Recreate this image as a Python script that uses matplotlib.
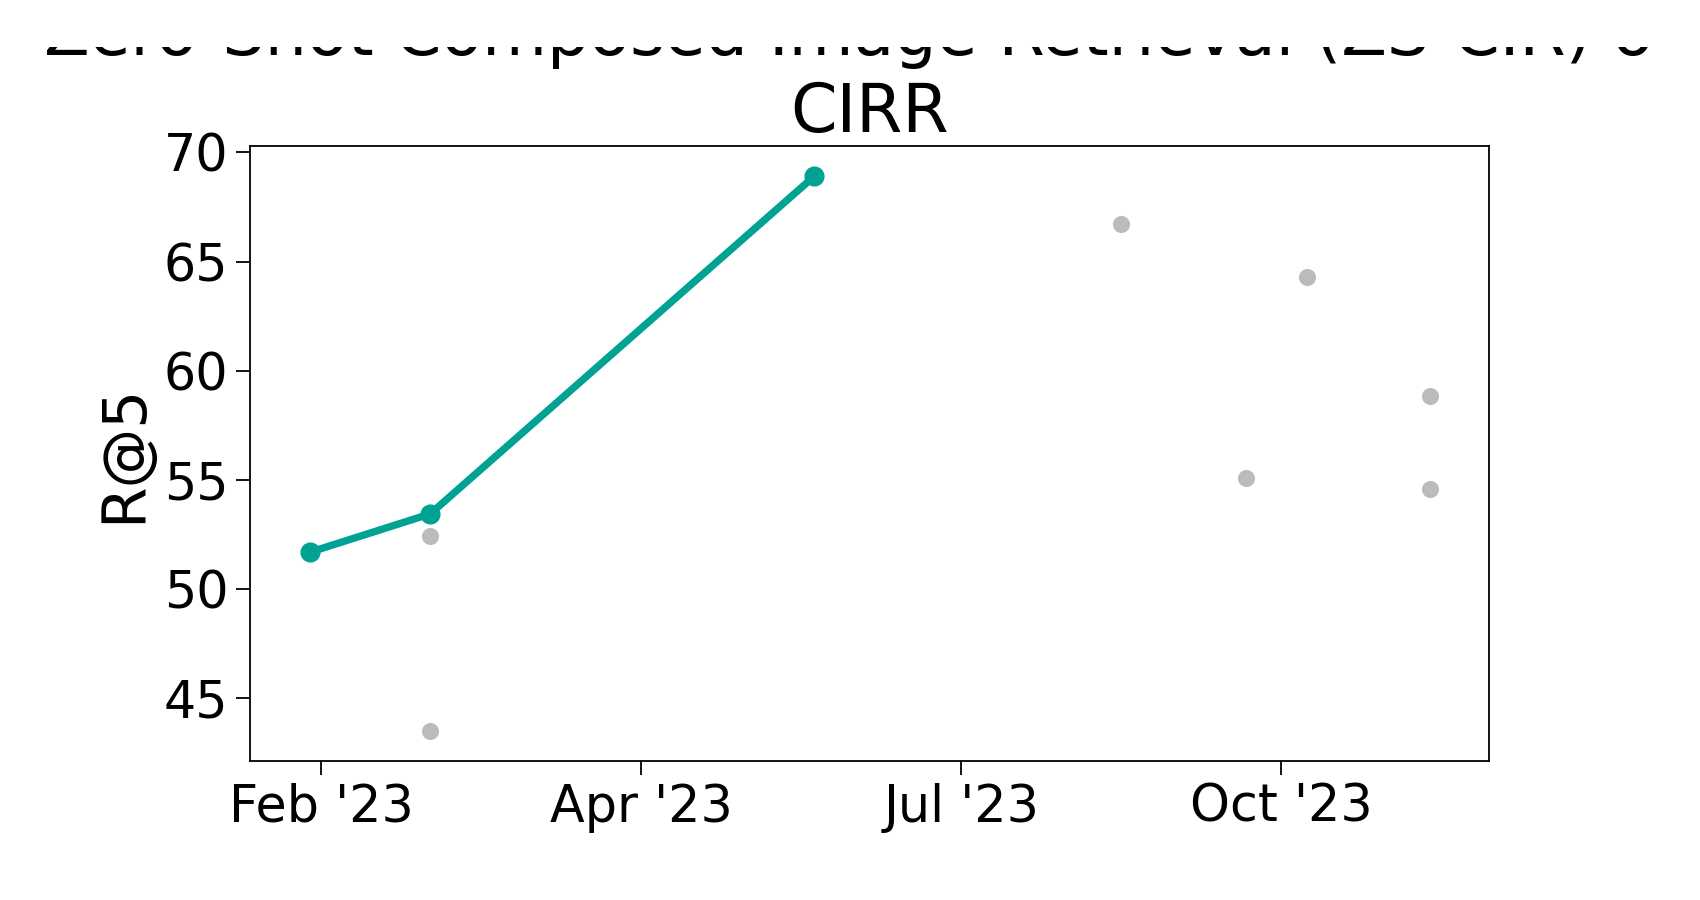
import matplotlib
matplotlib.use("Agg")
import matplotlib.pyplot as plt
from matplotlib.transforms import Bbox, TransformedBbox

# x positions as fractional year, y as R@5
best_x = [2023.093, 2023.168, 2023.408]
best_y = [51.7, 53.45, 68.9]

other_x = [2023.168, 2023.168, 2023.600, 2023.678, 2023.716, 2023.793, 2023.793]
other_y = [52.45, 43.5, 66.7, 55.1, 64.3, 58.85, 54.6]

tick_pos = [2023.1, 2023.3, 2023.5, 2023.7]
tick_labels = ["Feb '23", "Apr '23", "Jul '23", "Oct '23"]

title = "Zero-Shot Composed Image Retrieval (ZS-CIR) on\nCIRR"
ylabel = "R@5"

fig = plt.figure(figsize=(17, 9), dpi=100)
ax = fig.add_axes([0.147, 0.154, 0.729, 0.684])

ax.scatter(other_x, other_y, s=12.3 ** 2, color="#bbbbbb", zorder=1, linewidths=0)
ax.plot(best_x, best_y, color="#00a393", linewidth=5.3, marker="o",
        markersize=13.5, zorder=2)

ax.set_xlim(2023.0553, 2023.830)
ax.set_ylim(42.12, 70.3)
ax.set_xticks(tick_pos)
ax.set_xticklabels(tick_labels)
ax.tick_params(labelsize=36.5, length=10, width=1.3, pad=5.5)
for s in ax.spines.values():
    s.set_linewidth(1.3)
ax.set_ylabel(ylabel, fontsize=43, labelpad=7)

# the reference shows the title cut off at the top and right edge
t = ax.set_title(title, fontsize=48, pad=10)
t.set_clip_box(TransformedBbox(Bbox.from_extents(0, 0, 1652 / 1700, 853 / 900),
                               fig.transFigure))
t.set_clip_on(True)

fig.savefig("out.png", dpi=100)
